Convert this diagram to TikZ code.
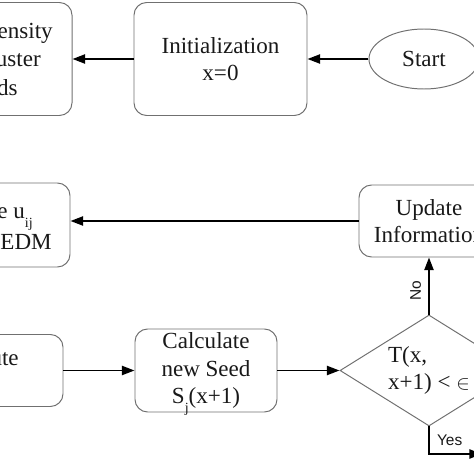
\documentclass[tikz,border=0pt]{standalone}
\usepackage{fontspec}
\setmainfont{Liberation Serif}
\newfontfamily\labelfont{Liberation Sans}
\definecolor{fcgray}{RGB}{112,112,112}
\definecolor{fctext}{RGB}{25,25,25}
\usetikzlibrary{arrows.meta,positioning,shapes.geometric}

\tikzset{
  procbox/.style={draw=fcgray, line width=0.7pt, rounded corners=9pt, text=fctext, align=center,
    font=\fontsize{16.4}{19.6}\selectfont, inner sep=0pt},
  startnode/.style={ellipse, draw=fcgray, line width=0.7pt, text=fctext, inner sep=0pt,
    font=\fontsize{16.4}{19.6}\selectfont, minimum width=2.75cm, minimum height=1.5cm},
  decision/.style={diamond, draw=fcgray, line width=0.7pt, text=fctext, align=left, inner sep=0pt,
    aspect=1.6, font=\fontsize{16.4}{19.6}\selectfont, minimum width=4.45cm, minimum height=2.775cm},
  cutlabel/.style={text=fctext, font=\fontsize{16.4}{19.6}\selectfont, inner sep=0pt, anchor=east},
  flowarrow/.style={line width=1.4pt, -{Triangle[length=9pt,width=6.5pt]}},
  branchlabel/.style={font=\labelfont\fontsize{11}{13}\selectfont, text=fctext, inner sep=5pt}
}
\newcommand{\lowsub}[1]{\raisebox{-0.4em}[0pt][0pt]{\fontsize{10}{10}\selectfont #1}}

\begin{document}
\begin{tikzpicture}
  \useasboundingbox (0,0) rectangle (11.85,11.85);
  \clip (0,0) rectangle (11.85,11.85);

  % Top row
  \node[procbox, minimum width=4.325cm, minimum height=2.825cm] (init) at (5.5125,10.375) {Initialization\\x=0};
  \node[startnode, right=1.525cm of init] (start) {Start};
  \node[procbox, minimum width=4.325cm, minimum height=2.825cm, left=1.525cm of init] (seeds) {};
  \node[cutlabel] (seedsa) at (1.325,11.025) {ensity};
  \node[cutlabel] (seedsb) at (1.025,10.35) {uster};
  \node[cutlabel] (seedsc) at (0.45,9.65) {ds};

  % Middle row
  \node[procbox, minimum width=3.5cm, minimum height=1.8cm] (update) at (10.725,6.325) {Update\\Information};
  \node[procbox, minimum width=4.325cm, minimum height=2.1cm] (edm) at (-0.4125,6.225) {};
  \node[cutlabel] (edma) at (0.825,6.525) {e u\lowsub{ij}};
  \node[cutlabel] (edmb) at (1.3,5.8) {EDM};

  % Bottom row
  \node[procbox, minimum width=4.325cm, minimum height=1.8cm] (comp) at (-0.5875,2.5875) {};
  \node[cutlabel] (compa) at (0.475,2.875) {ute};
  \node[procbox, minimum width=3.55cm, minimum height=2.075cm] (calc) at (5.15,2.5875) {Calculate\\new Seed\\S\lowsub{j}(x+1)};
  \node[decision] (test) at (10.725,2.5875) {T(x,\\x+1) < {\fontsize{14}{14}\selectfont$\in$}};
  \coordinate (exit) at (12.05,0.5);

  % Connectors
  \draw[flowarrow] (start.west) -- (init.east);
  \draw[flowarrow] (init.west) -- (seeds.east);
  \draw[flowarrow] (update.west) -- (update.west -| edm.east);
  \draw[flowarrow] (comp.east) -- (calc.west);
  \draw[flowarrow] (calc.east) -- (test.west);
  \draw[flowarrow] (test.north) -- node[branchlabel, sloped, above, pos=0.42] {No} (update.south);
  \draw[flowarrow] (test.south) |- node[branchlabel, above right, pos=0.5] {Yes} (exit);
\end{tikzpicture}
\end{document}
